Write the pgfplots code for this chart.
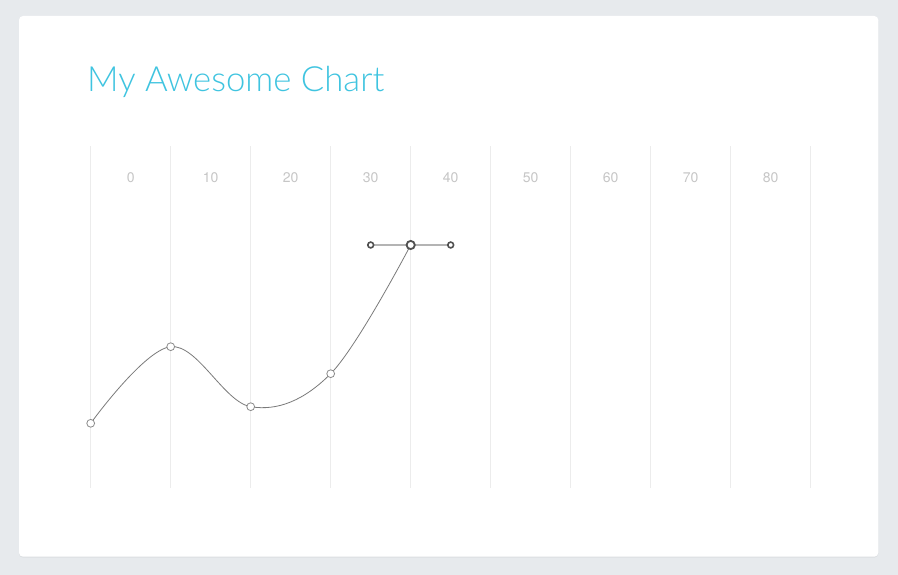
\documentclass[border=0pt]{standalone}
\usepackage{fontspec}
\setmainfont{TeX Gyre Heros}
\newfontfamily\titlefont{Lato Light}
\usepackage{pgfplots}
\pgfplotsset{compat=1.18}
\definecolor{bgc}{HTML}{E7EAED}
\definecolor{shadowc}{HTML}{DCDFE2}
\definecolor{titlec}{HTML}{3FC4E0}
\definecolor{gridc}{HTML}{ECECEC}
\definecolor{labc}{HTML}{C6C6C6}
\definecolor{linec}{HTML}{7A7A7A}
\definecolor{markc}{HTML}{8A8A8A}
\definecolor{handc}{HTML}{505050}
\definecolor{handl}{HTML}{B4B4B4}
\begin{document}
\begin{tikzpicture}[x=1pt,y=1pt]
\fill[bgc] (0,0) rectangle (898,575);
\fill[shadowc, rounded corners=4pt] (19,17.3) rectangle (878.3,558);
\fill[white, rounded corners=4pt] (19,18.3) rectangle (878.3,559);
\node[anchor=base west, inner sep=0pt, font=\titlefont\fontsize{34.7}{40}\selectfont, text=titlec] at (87,483.3) {My Awesome Chart};
\begin{axis}[
  at={(90.7pt,87.3pt)}, anchor=south west,
  scale only axis, width=720pt, height=342pt,
  xmin=0, xmax=9, ymin=0, ymax=342,
  clip=false,
  axis line style={draw=none},
  major tick length=0pt, minor tick length=0pt,
  ytick=\empty,
  xtick={0.5,1.5,2.5,3.5,4.5,5.5,6.5,7.5,8.5},
  xticklabels={0,10,20,30,40,50,60,70,80},
  xticklabel pos=upper,
  /pgf/number format/assume math mode=true,
  xticklabel style={anchor=center, yshift=-32pt, text=labc, font=\fontsize{14}{16}\selectfont},
  minor xtick={0,1,2,3,4,5,6,7,8,9},
  xminorgrids=true,
  minor grid style={draw=gridc, line width=0.9pt},
]
\addplot[linec, line width=0.8pt, smooth, tension=0.6, mark=*,
  mark options={fill=white, draw=markc, line width=0.8pt, solid}, mark size=3.9pt]
  coordinates {(0,64.4) (1,141) (2,81) (3,114) (4,242.7)};
\addplot[handl, line width=1.1pt, mark=*,
  mark options={fill=white, draw=handc, line width=1.6pt}, mark size=2.9pt]
  coordinates {(3.5,242.7) (4.5,242.7)};
\addplot[only marks, mark=*,
  mark options={fill=white, draw=handc, line width=1.8pt}, mark size=4.1pt]
  coordinates {(4,242.7)};
\end{axis}
\end{tikzpicture}
\end{document}
